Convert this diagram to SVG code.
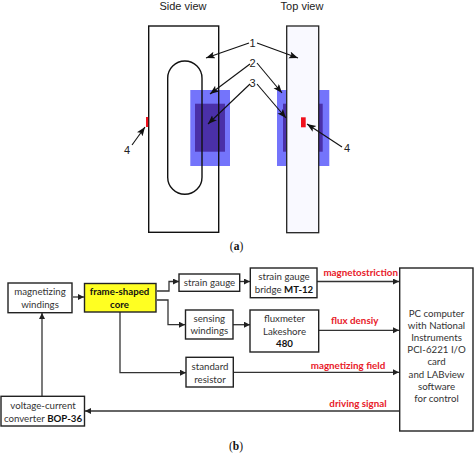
<svg xmlns="http://www.w3.org/2000/svg" width="474" height="454" viewBox="0 0 474 454">
<defs>
<marker id="ah" markerUnits="userSpaceOnUse" markerWidth="7" markerHeight="7" refX="6" refY="3" orient="auto"><path d="M0,0L6,3L0,6Z" fill="#222"/></marker>
<marker id="ab" markerUnits="userSpaceOnUse" markerWidth="10" markerHeight="8" refX="9" refY="3.5" orient="auto"><path d="M0,0L9,3.5L0,7L2,3.5Z" fill="#111"/></marker>
</defs>
<style>
text{font-family:"Lato","Liberation Sans",sans-serif;font-size:9.7px;fill:#333;text-anchor:middle}
.b{font-weight:700;fill:#111}
.r{font-weight:700;fill:#e8202a;font-size:9.8px}
.v{font-family:"Liberation Sans",Arial,sans-serif;font-size:11px;fill:#222}
.c{font-family:"Liberation Serif",serif;font-size:11.5px;fill:#111}
.box{fill:#fff;stroke:#222;stroke-width:1.4}
.fr{fill:none;stroke:#111;stroke-width:1.4}
.ln{fill:none;stroke:#333;stroke-width:1.3;marker-end:url(#ah)}
.ca{fill:none;stroke:#111;stroke-width:1.1;marker-end:url(#ab)}
.o{fill:#7474fb}.d{fill:#4a30a8}.red{fill:#f0101c}
</style>
<g id="side-view">
<rect class="o" x="190.3" y="90" width="39.7" height="76"/>
<rect class="d" x="195" y="103.7" width="30" height="48"/>
<rect class="fr" x="148.7" y="26" width="70" height="206.3"/>
<rect class="fr" x="167.7" y="61" width="34.3" height="133.3" rx="17.15" ry="17.15"/>
<rect class="red" x="146" y="117" width="2.2" height="10"/>
<text class="v" x="183" y="9.5">Side view</text>
</g>
<g id="top-view">
<rect class="o" x="277" y="90" width="52.3" height="76"/>
<rect class="d" x="283" y="103.7" width="39.7" height="48"/>
<rect x="286.7" y="26" width="32" height="206.7" fill="#f9f9ff" stroke="#222" stroke-width="1.3"/>
<rect class="red" x="301" y="117.3" width="4.7" height="10"/>
<text class="v" x="302" y="9.5">Top view</text>
</g>
<g id="connectors-a">
<path class="ca" d="M249,43L206,58"/>
<path class="ca" d="M257,43L298,58"/>
<path class="ca" d="M250,64L210,94"/>
<path class="ca" d="M257,63L282,93"/>
<path class="ca" d="M250,84L208,124"/>
<path class="ca" d="M257,84L286,118"/>
<path class="ca" d="M132,145L145,127"/>
<path class="ca" d="M342,147L307,124"/>
</g>
<g id="labels-a">
<text class="v" x="252.5" y="47">1</text>
<text class="v" x="252.5" y="66.500">2</text>
<text class="v" x="252.5" y="87">3</text>
<text class="v" x="127" y="154">4</text>
<text class="v" x="347" y="152">4</text>
<text class="c" x="236.500" y="250"><tspan>(</tspan><tspan font-weight="700">a</tspan><tspan>)</tspan></text>
</g>
<g id="connectors-b">
<path class="ln" d="M73,297H84"/>
<path class="ln" d="M157,291H169V281.500H179"/>
<path class="ln" d="M157,300H168V324.700H185"/>
<path class="ln" d="M120,312V372.700H186"/>
<path class="ln" d="M42,396V313"/>
<path class="ln" d="M240,281.500H250"/>
<path class="ln" d="M233,324.700H250"/>
<path class="ln" d="M317,281.500H399"/>
<path class="ln" d="M319,330.300H399"/>
<path class="ln" d="M233,372.300H399"/>
<path class="ln" d="M399,411H85"/>
</g>
<g id="magnetizing-windings"><rect class="box" x="8" y="283" width="64" height="29.700"/><text x="40" y="295">magnetizing</text><text x="40" y="308">windings</text></g>
<g id="frame-shaped-core"><rect x="84.500" y="283.500" width="71.500" height="28.500" fill="#ffff22" stroke="#222" stroke-width="1.4"/><text class="b" x="119.500" y="295">frame-shaped</text><text class="b" x="119.500" y="308">core</text></g>
<g id="strain-gauge"><rect class="box" x="179" y="274" width="60.700" height="17.300"/><text x="209.500" y="286">strain gauge</text></g>
<g id="sensing-windings"><rect class="box" x="185.500" y="310" width="47.500" height="29"/><text x="209.300" y="322">sensing</text><text x="209.300" y="334">windings</text></g>
<g id="standard-resistor"><rect class="box" x="186" y="357.300" width="47.300" height="29.700"/><text x="210" y="370">standard</text><text x="210" y="382.500">resistor</text></g>
<g id="voltage-current-converter"><rect class="box" x="1" y="396.300" width="83.500" height="29.700"/><text x="43" y="409">voltage-current</text><text x="43" y="421.500">converter <tspan class="b">BOP-36</tspan></text></g>
<g id="strain-gauge-bridge"><rect class="box" x="250.300" y="268" width="66.700" height="29.700"/><text x="284" y="280">strain gauge</text><text x="284" y="292.500">bridge <tspan class="b">MT-12</tspan></text></g>
<g id="fluxmeter"><rect class="box" x="250" y="310" width="68.700" height="42"/><text x="284.500" y="322">fluxmeter</text><text x="284.500" y="335">Lakeshore</text><text class="b" x="284.500" y="347">480</text></g>
<g id="pc-computer"><rect class="box" x="399.700" y="268" width="73.300" height="163"/>
<text x="436.500" y="317">PC computer</text><text x="436.500" y="328.500">with National</text><text x="436.500" y="340.500">Instruments</text><text x="436.500" y="353">PCI-6221 I/O</text><text x="436.500" y="365">card</text><text x="436.500" y="377.500">and LABview</text><text x="436.500" y="389.500">software</text><text x="436.500" y="401.500">for control</text></g>
<g id="signal-labels">
<text class="r" x="360.700" y="275.500">magnetostriction</text>
<text class="r" x="354.700" y="323.500">flux densiy</text>
<text class="r" x="348" y="368.500">magnetizing field</text>
<text class="r" x="358" y="406.500">driving signal</text>
<text class="c" x="236" y="450"><tspan>(</tspan><tspan font-weight="700">b</tspan><tspan>)</tspan></text>
</g>
</svg>
